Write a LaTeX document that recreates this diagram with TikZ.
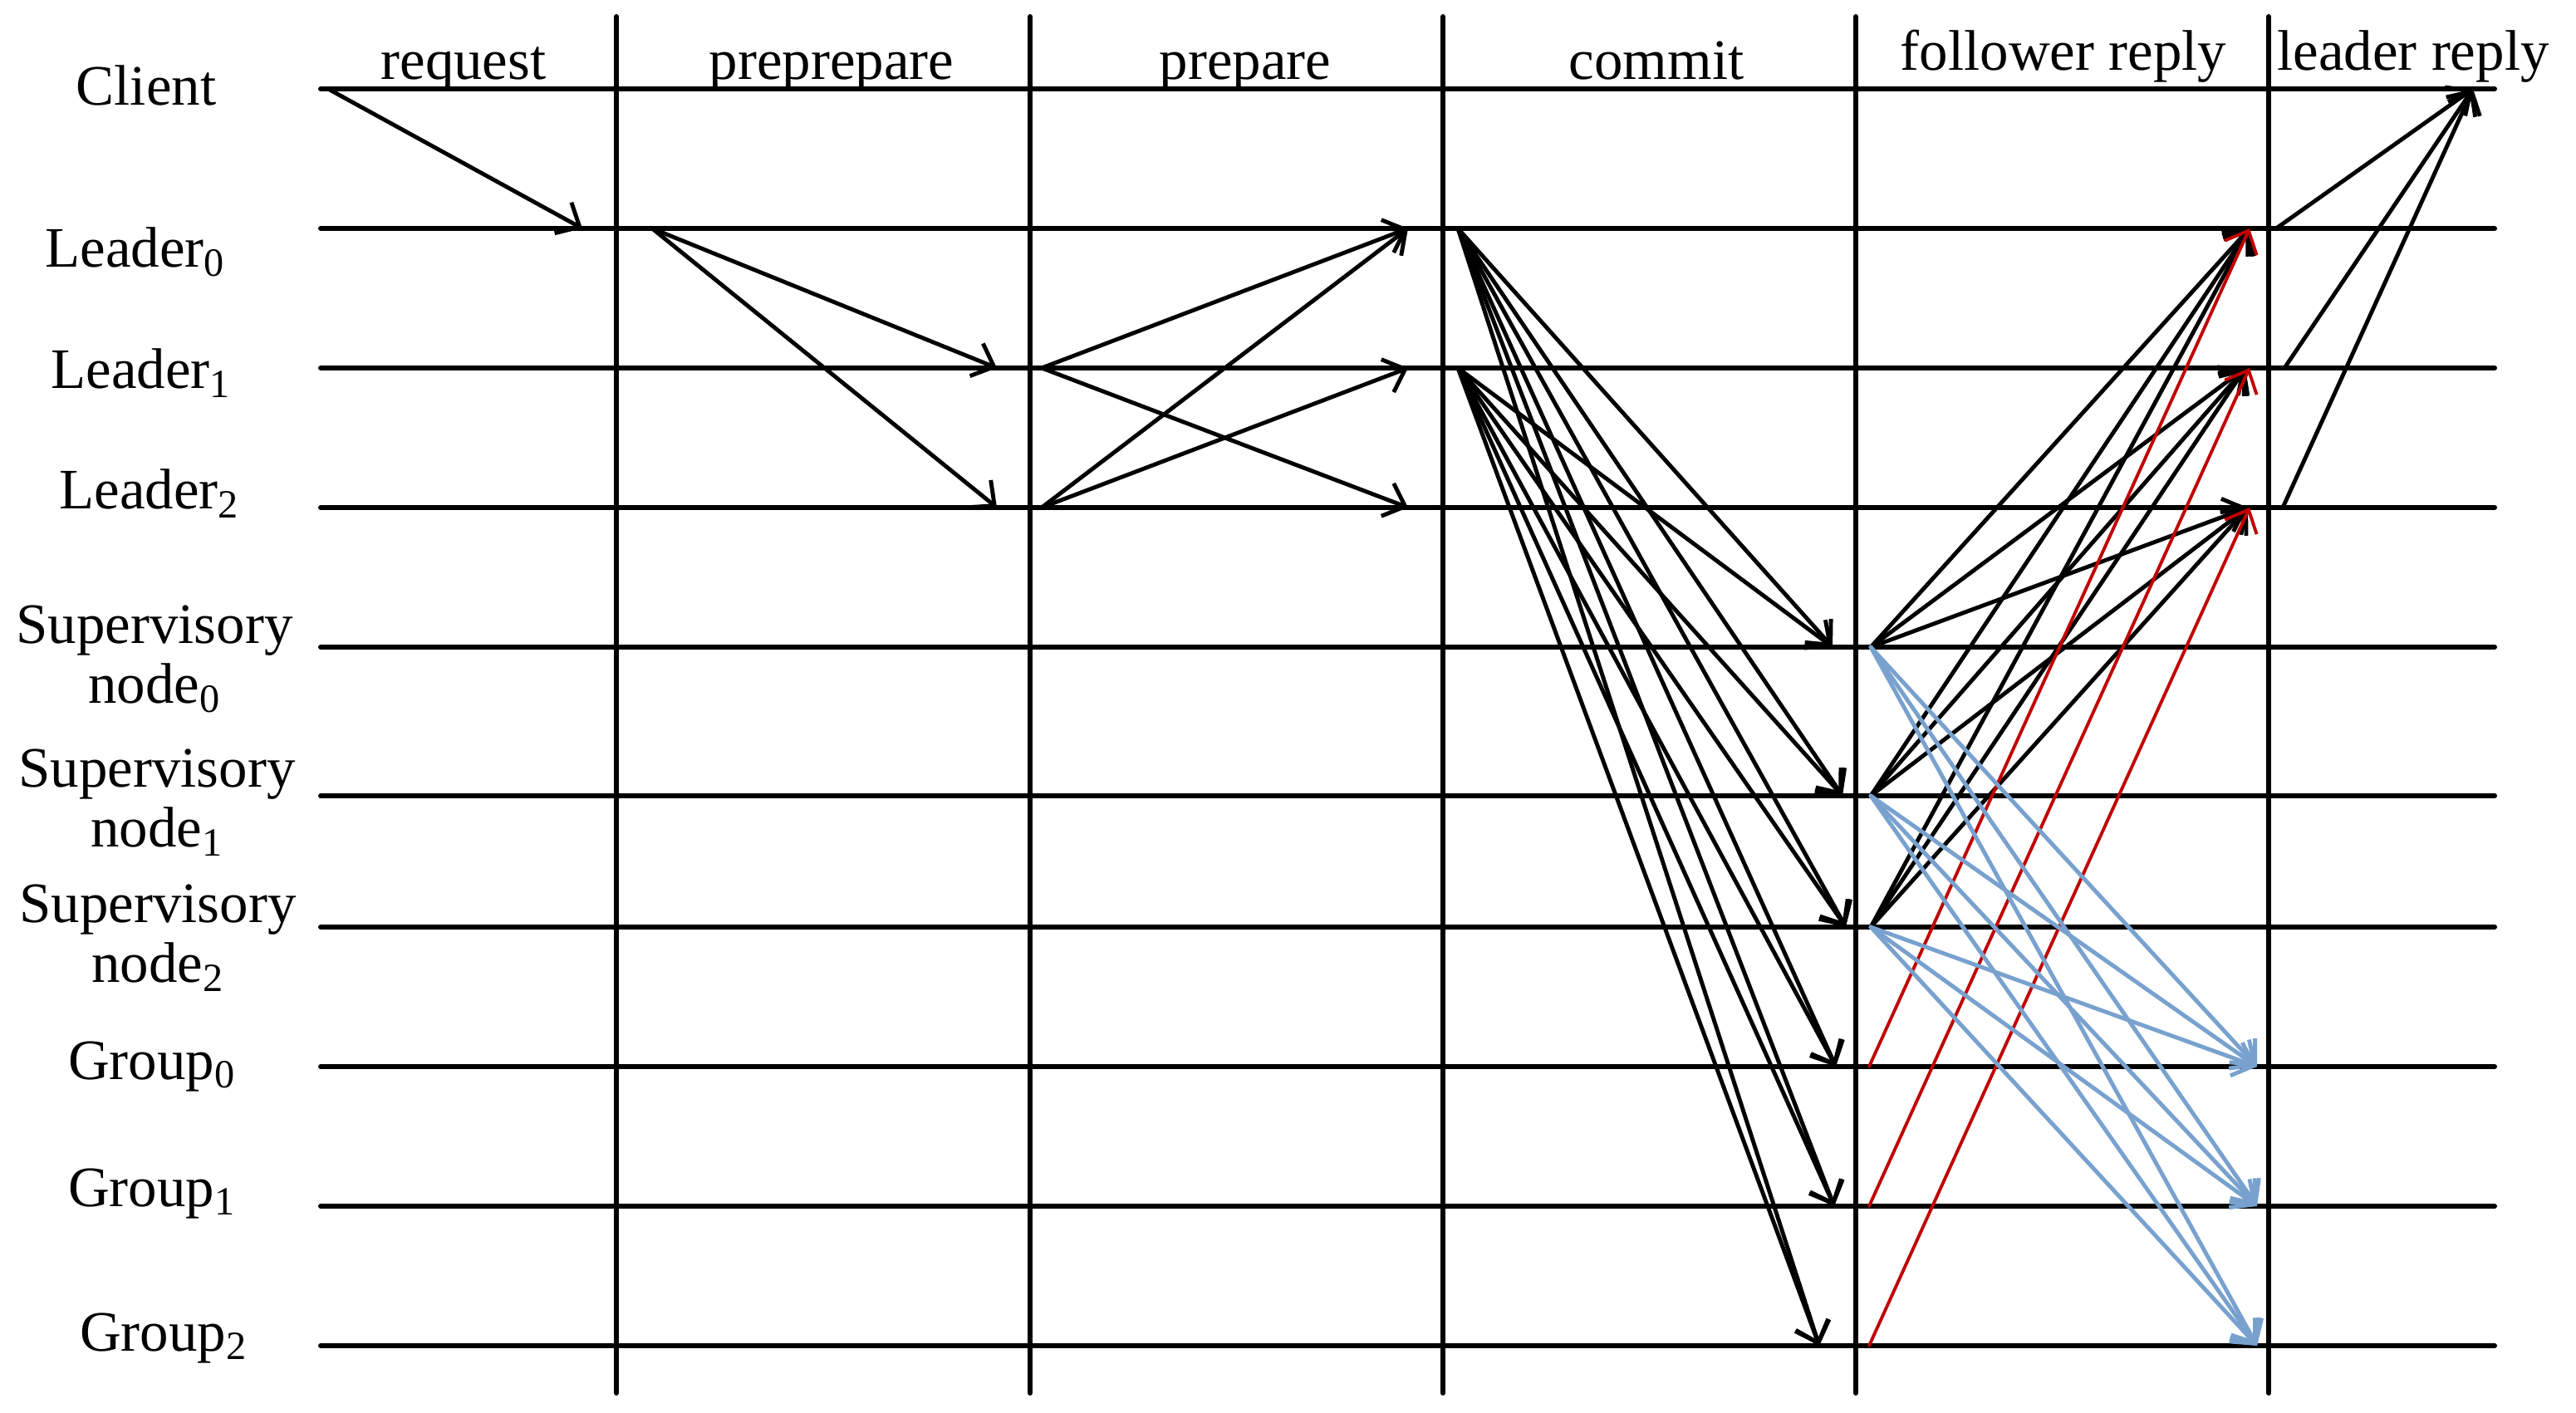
\documentclass[tikz,border=0pt]{standalone}
\usepackage{fontspec}
\setmainfont{Liberation Serif}
\usetikzlibrary{arrows.meta,positioning}

\definecolor{replyBlue}{RGB}{120,161,206}
\definecolor{replyRed}{RGB}{192,0,0}

\begin{document}
\begin{tikzpicture}[font=\fontsize{19.6}{20.5}\selectfont, line cap=round, >={Straight Barb[length=6.5pt,width=12pt]}]
		
		\useasboundingbox (0,0) rectangle (31.01,17);
		
		\tikzstyle{timeLine} = [black, line width=1.7pt]
		\tikzstyle{msg} = [->, black, line width=1.4pt]
		\tikzstyle{toGroup} = [->, replyBlue, line width=1.4pt]
		\tikzstyle{toLeader} = [->, replyRed, line width=1.1pt]
		
		% Nodes
		\node[anchor=base] (client_lbl) at (1.76,15.73) {Client};
		\node[anchor=base] (ld0_lbl) at (1.63,13.78) {Leader\textsubscript{0}};
		\node[anchor=base] (ld1_lbl) at (1.70,12.32) {Leader\textsubscript{1}};
		\node[anchor=base] (ld2_lbl) at (1.80,10.87) {Leader\textsubscript{2}};
		\node[anchor=base, align=center] (sv0_lbl) at (1.86,8.53) {Supervisory\\node\textsubscript{0}};
		\node[anchor=base, align=center] (sv1_lbl) at (1.89,6.80) {Supervisory\\node\textsubscript{1}};
		\node[anchor=base, align=center] (sv2_lbl) at (1.90,5.17) {Supervisory\\node\textsubscript{2}};
		\node[anchor=base] (g0_lbl) at (1.83,4.01) {Group\textsubscript{0}};
		\node[anchor=base] (g1_lbl) at (1.83,2.48) {Group\textsubscript{1}};
		\node[anchor=base] (g2_lbl) at (1.97,0.74) {Group\textsubscript{2}};
		
		% Phases
		\node[anchor=base] (request) at (5.58,16.04) {request};
		\node[anchor=base] (preprepare) at (10.01,16.04) {preprepare};
		\node[anchor=base] (prepare) at (14.99,16.04) {prepare};
		\node[anchor=base] (commit) at (19.94,16.04) {commit};
		\node[anchor=base] (fReply) at (24.84,16.15) {follower reply};
		\node[anchor=base] (lReply) at (29.05,16.15) {leader reply};
		\foreach \x in {7.42,12.40,17.37,22.34,27.31}
			\draw[timeLine] (\x,0.23) -- (\x,16.80);
		
		% Timelines
		\foreach \n/\y in {client/15.93,ld0/14.25,ld1/12.57,ld2/10.89,sv0/9.21,sv1/7.42,sv2/5.84,g0/4.16,g1/2.48,g2/0.80}{
			\coordinate (\n) at (0,\y);
			\draw[timeLine] ([xshift=3.86cm]\n) -- ([xshift=30.03cm]\n);
		}
		
		% Messages
		\draw[msg] ([xshift=3.95cm]client) -- ([xshift=7.01cm]ld0);
		\foreach \t in {ld1,ld2}
			\draw[msg] ([xshift=7.85cm]ld0) -- ([xshift=12.0cm]\t);
		\foreach \s/\t in {ld1/ld0,ld1/ld2,ld2/ld0,ld2/ld1}
			\draw[msg] ([xshift=12.54cm]\s) -- ([xshift=16.95cm]\t);
		\foreach \s in {ld0,ld1}
			\foreach \t/\e in {sv0/22.06,sv1/22.18,sv2/22.22,g0/22.1,g1/22.08,g2/21.9}
				\draw[msg] ([xshift=17.55cm]\s) -- ([xshift=\e cm]\t);
		\foreach \s in {sv0,sv1,sv2}
			\foreach \t/\e in {ld0/27.08,ld1/27.03,ld2/27.06}
				\draw[msg] ([xshift=22.52cm]\s) -- ([xshift=\e cm]\t);
		\foreach \s/\t in {g0/ld0,g1/ld1,g2/ld2}
			\draw[toLeader] ([xshift=22.5cm]\s) -- ([xshift=27.08cm]\t);
		\foreach \s in {sv0,sv1,sv2}
			\foreach \t in {g0,g1,g2}
				\draw[toGroup] ([xshift=22.52cm]\s) -- ([xshift=27.17cm]\t);
		\foreach \s/\x in {ld0/27.4,ld1/27.5,ld2/27.48}
			\draw[msg] ([xshift=\x cm]\s) -- ([xshift=29.77cm]client);
		
\end{tikzpicture}
\end{document}
